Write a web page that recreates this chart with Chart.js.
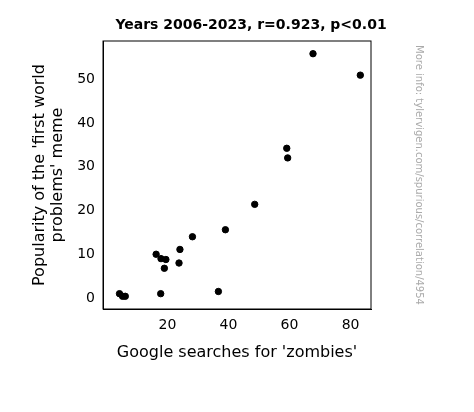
<!DOCTYPE html><html><head><script src="https://cdn.jsdelivr.net/npm/chart.js"></script>
<style>body{margin:0;background:#fff}#w{width:474px;height:412px;position:relative}</style></head><body><div id="w"><canvas id="c" width="474" height="412"></canvas></div>
<script>
const xValues=[4.3,5.3,6.2,17.8,36.7,16.3,17.9,19.5,19.0,23.8,24.1,28.2,39.0,48.6,59.1,59.4,67.7,83.2];
const yValues=[1.0,0.4,0.4,1.0,1.5,10.0,9.0,8.8,6.8,8.0,11.1,14.0,15.6,21.4,34.2,32.0,55.8,50.9];
const xTicks=[20,40,60,80];
const yTicks=[0,10,20,30,40,50];
const titleText='Years 2006-2023, r=0.923, p<0.01';
const wm={id:'wm',afterDraw(ch){const c=ch.ctx;c.save();c.translate(419,175);c.rotate(Math.PI/2);c.fillStyle='#aaa';c.font='10px "DejaVu Sans"';c.textAlign='center';c.textBaseline='middle';c.fillText('More info: tylervigen.com/spurious/correlation/4954',0,0);
c.restore();c.save();const a=ch.chartArea;c.fillStyle='#000';c.font='bold 14px "DejaVu Sans"';c.textAlign='center';c.textBaseline='middle';c.fillText(titleText,251,25);c.restore();}};
new Chart(document.getElementById('c'),{type:'scatter',
data:{datasets:[{data:xValues.map((x,i)=>({x,y:yValues[i]})),backgroundColor:'#000',borderColor:'#000',pointRadius:3.2}]},
options:{responsive:false,animation:false,devicePixelRatio:1,
layout:{padding:{left:27,right:103,top:41,bottom:46}},
plugins:{legend:{display:false},tooltip:{enabled:false},title:{display:false}},
scales:{x:{type:'linear',min:-1.1,max:86.7,afterBuildTicks:a=>{a.ticks=xTicks.map(v=>({value:v}))},
grid:{display:false,drawTicks:true,tickLength:5,tickColor:'#000'},border:{color:'#000'},
ticks:{color:'#000',font:{family:'"DejaVu Sans"',size:14}},
title:{display:true,text:"Google searches for 'zombies'",color:'#000',font:{family:'"DejaVu Sans"',size:16},padding:{top:6}}},
y:{type:'linear',min:-2.5,max:58.7,afterBuildTicks:a=>{a.ticks=yTicks.map(v=>({value:v}))},
grid:{display:false,drawTicks:true,tickLength:5,tickColor:'#000'},border:{color:'#000'},
ticks:{color:'#000',font:{family:'"DejaVu Sans"',size:14}},
title:{display:true,text:["Popularity of the 'first world","problems' meme"],color:'#000',font:{family:'"DejaVu Sans"',size:16,lineHeight:1.1},padding:{bottom:8}}}}},
plugins:[wm,{id:'box',afterDraw(ch){const a=ch.chartArea,c=ch.ctx;c.save();c.strokeStyle='#000';c.lineWidth=1;c.strokeRect(a.left,a.top,a.right-a.left,a.bottom-a.top);c.restore();}}]});
</script></body></html>
